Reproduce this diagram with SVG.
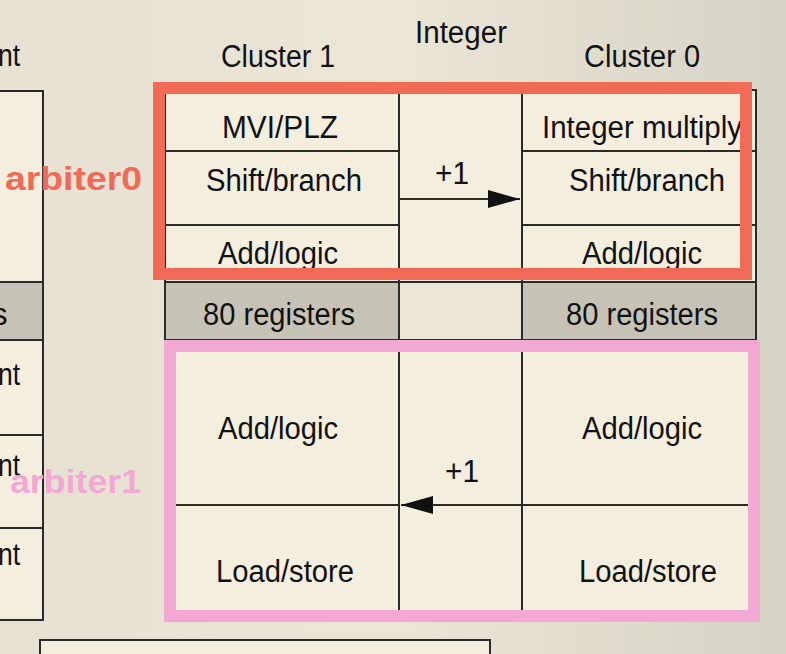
<svg xmlns="http://www.w3.org/2000/svg" width="786" height="654" viewBox="0 0 786 654">
<defs>
<linearGradient id="bg" x1="0" y1="0" x2="1" y2="0"><stop offset="0" stop-color="#e6e1d3"/><stop offset="0.5" stop-color="#ebe5d6"/><stop offset="1" stop-color="#d6d3c6"/></linearGradient>
<marker id="ah" markerWidth="32" markerHeight="18" refX="32" refY="9" orient="auto" markerUnits="userSpaceOnUse"><path d="M0,0 L32,9 L0,18 Z" fill="#111"/></marker>
<style>
.c{fill:#f4eedf;stroke:#2a2a2a;stroke-width:2}
.g{fill:#c6c3b6;stroke:#2a2a2a;stroke-width:2}
.t{font-family:"Liberation Sans",Arial,sans-serif;font-size:31px;fill:#111;text-anchor:middle}
.l{stroke:#2a2a2a;stroke-width:2;fill:none}
.ar{font-family:"Liberation Sans",Arial,sans-serif;font-size:34px;font-weight:bold}
</style>
</defs>
<rect width="786" height="654" fill="url(#bg)"/>
<g id="left">
<rect class="c" x="-5" y="91" width="48" height="191"/>
<rect class="g" x="-5" y="282" width="48" height="58"/>
<rect class="c" x="-5" y="340" width="48" height="95"/>
<rect class="c" x="-5" y="435" width="48" height="93"/>
<rect class="c" x="-5" y="528" width="48" height="92"/>
<text class="t" x="-8" y="66" style="text-anchor:start" textLength="28" lengthAdjust="spacingAndGlyphs">int</text>
<text class="t" x="-8" y="325" style="text-anchor:start">s</text>
<text class="t" x="-8" y="385" style="text-anchor:start" textLength="28" lengthAdjust="spacingAndGlyphs">int</text>
<text class="t" x="-8" y="476" style="text-anchor:start" textLength="28" lengthAdjust="spacingAndGlyphs">int</text>
<text class="t" x="-8" y="565" style="text-anchor:start" textLength="28" lengthAdjust="spacingAndGlyphs">int</text>
</g>
<g id="headers">
<text class="t" x="278" y="67" textLength="114" lengthAdjust="spacingAndGlyphs">Cluster 1</text>
<text class="t" x="461" y="43" textLength="92" lengthAdjust="spacingAndGlyphs">Integer</text>
<text class="t" x="642" y="67" textLength="116" lengthAdjust="spacingAndGlyphs">Cluster 0</text>
</g>
<g id="cluster1">
<rect class="c" x="165" y="90" width="234" height="61"/>
<rect class="c" x="165" y="151" width="234" height="74"/>
<rect class="c" x="165" y="225" width="234" height="57"/>
<rect class="g" x="165" y="282" width="234" height="58"/>
<rect class="c" x="165" y="340" width="234" height="165"/>
<rect class="c" x="165" y="505" width="234" height="107"/>
<text class="t" x="280" y="138" textLength="116" lengthAdjust="spacingAndGlyphs">MVI/PLZ</text>
<text class="t" x="284" y="191" textLength="156" lengthAdjust="spacingAndGlyphs">Shift/branch</text>
<text class="t" x="278" y="264" textLength="120" lengthAdjust="spacingAndGlyphs">Add/logic</text>
<text class="t" x="279" y="325" textLength="152" lengthAdjust="spacingAndGlyphs">80 registers</text>
<text class="t" x="278" y="439" textLength="120" lengthAdjust="spacingAndGlyphs">Add/logic</text>
<text class="t" x="285" y="582" textLength="138" lengthAdjust="spacingAndGlyphs">Load/store</text>
</g>
<g id="integer">
<rect class="c" x="399" y="90" width="123" height="192"/>
<rect x="399" y="282" width="123" height="58" fill="#ebe5d6" stroke="#2a2a2a" stroke-width="2"/>
<rect class="c" x="399" y="340" width="123" height="272"/>
</g>
<g id="cluster0">
<rect class="c" x="522" y="90" width="234" height="61"/>
<rect class="c" x="522" y="151" width="234" height="74"/>
<rect class="c" x="522" y="225" width="234" height="57"/>
<rect class="g" x="522" y="282" width="234" height="58"/>
<rect class="c" x="522" y="340" width="234" height="165"/>
<rect class="c" x="522" y="505" width="234" height="107"/>
<text class="t" x="642" y="138" textLength="200" lengthAdjust="spacingAndGlyphs">Integer multiply</text>
<text class="t" x="647" y="191" textLength="156" lengthAdjust="spacingAndGlyphs">Shift/branch</text>
<text class="t" x="642" y="264" textLength="120" lengthAdjust="spacingAndGlyphs">Add/logic</text>
<text class="t" x="642" y="325" textLength="152" lengthAdjust="spacingAndGlyphs">80 registers</text>
<text class="t" x="642" y="439" textLength="120" lengthAdjust="spacingAndGlyphs">Add/logic</text>
<text class="t" x="648" y="582" textLength="138" lengthAdjust="spacingAndGlyphs">Load/store</text>
</g>
<g id="connectors">
<line class="l" x1="399" y1="199" x2="520" y2="199" marker-end="url(#ah)"/>
<line class="l" x1="522" y1="505" x2="401" y2="505" marker-end="url(#ah)"/>
<text class="t" x="452" y="184" textLength="34" lengthAdjust="spacingAndGlyphs">+1</text>
<text class="t" x="462" y="482" textLength="34" lengthAdjust="spacingAndGlyphs">+1</text>
</g>
<g id="bottom"><rect class="c" x="40" y="640" width="450" height="30"/></g>
<g id="arbiter0">
<rect x="159" y="88" width="587" height="186" fill="none" stroke="#f06a55" stroke-width="12"/>
<text class="ar" x="5" y="190" fill="#f06a55" textLength="137" lengthAdjust="spacingAndGlyphs">arbiter0</text>
</g>
<g id="arbiter1">
<rect x="170" y="346" width="584" height="270" fill="none" stroke="#f2a8d2" stroke-width="12"/>
<text class="ar" x="10" y="493" fill="#f2a8d2" textLength="131" lengthAdjust="spacingAndGlyphs">arbiter1</text>
</g>
</svg>
